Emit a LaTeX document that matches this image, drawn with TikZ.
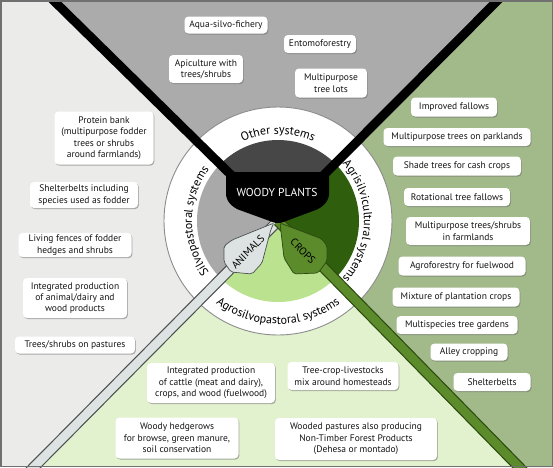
\documentclass[tikz,border=0pt]{standalone}
\usepackage{fontspec}
\setmainfont{PT Sans}
\usetikzlibrary{decorations.text,shadows,calc}
\definecolor{topbg}{HTML}{ABABAB}
\definecolor{leftbg}{HTML}{EBEBE9}
\definecolor{rightbg}{HTML}{A2B98A}
\definecolor{botbg}{HTML}{E2F2CE}
\definecolor{intop}{HTML}{474747}
\definecolor{inleft}{HTML}{A9A9A9}
\definecolor{inright}{HTML}{2F5E0D}
\definecolor{inbot}{HTML}{BAE28F}
\definecolor{cropfill}{HTML}{5B8B2B}
\definecolor{cropline}{HTML}{2C4A10}
\definecolor{animfill}{HTML}{DDE3E3}
\definecolor{animline}{HTML}{4D5050}
\definecolor{ringline}{HTML}{8C8C8C}
\definecolor{framecol}{HTML}{707070}
\begin{document}
\begin{tikzpicture}[x=1pt,y=1pt,
  box/.style={fill=white, rounded corners=4pt, align=center, inner sep=2pt,
    font=\fontsize{9.5}{11.4}\selectfont, text=black!92,
    drop shadow={shadow xshift=0.9pt, shadow yshift=-1.1pt, opacity=0.5, fill=black!60}},
  ringtext/.style={decorate, decoration={text along path, text align=center, text={|\fontsize{12}{14}\selectfont|#1}}},
  bigcap/.style={font=\fontsize{11.5}{13}\selectfont},
  smallcap/.style={font=\fontsize{10.5}{12}\selectfont},
]
\useasboundingbox (0,0) rectangle (553,-467);
\coordinate (C) at (278,-221);
\coordinate (TL) at (53,0);
\coordinate (TR) at (498,0);
\coordinate (BL) at (34,-467);
\coordinate (BR) at (519,-467);
\begin{scope}
\clip (0,0) rectangle (553,-467);
% backgrounds
\fill[leftbg] (0,0) rectangle (553,-467);
\fill[topbg] (TL) -- (TR) -- (C) -- cycle;
\fill[rightbg] (TR) -- (553,0) -- (553,-467) -- (BR) -- (C) -- cycle;
\fill[botbg] (BL) -- (BR) -- (C) -- cycle;
% ring
\filldraw[fill=white, draw=ringline, line width=0.9pt] (C) circle[radius=114];
\fill[intop] (C) -- ([shift={(45:81)}]C) arc[start angle=45, end angle=135, radius=81] -- cycle;
\fill[inleft] (C) -- ([shift={(135:81)}]C) arc[start angle=135, end angle=225, radius=81] -- cycle;
\fill[inbot] (C) -- ([shift={(225:81)}]C) arc[start angle=225, end angle=315, radius=81] -- cycle;
\fill[inright] (C) -- ([shift={(-45:81)}]C) arc[start angle=-45, end angle=45, radius=81] -- cycle;
% bars
\draw[black, line width=9pt] (C) -- ($(C)!1.1!(TL)$);
\draw[black, line width=9pt] (C) -- ($(C)!1.1!(TR)$);
\draw[animline, line width=11pt] (C) -- ($(C)!1.1!(BL)$);
\draw[animfill, line width=8.6pt] (C) -- ($(C)!1.1!(BL)$);
\draw[cropline, line width=11pt] (C) -- ($(C)!1.1!(BR)$);
\draw[cropfill, line width=8.6pt] (C) -- ($(C)!1.1!(BR)$);
\end{scope}
\draw[framecol, line width=1.5pt] (0.75,-0.75) rectangle (552.25,-466.25);
% ring texts
\path[ringtext={Other systems}] ([shift={(130:87)}]C) arc[start angle=130, end angle=50, radius=87];
\path[ringtext={Silvopastoral systems}] ([shift={(238:86)}]C) arc[start angle=238, end angle=122, radius=86];
\path[ringtext={Agrisilvicultural systems}] ([shift={(58:86)}]C) arc[start angle=58, end angle=-58, radius=86];
\path[ringtext={Agrosilvopastoral systems}] ([shift={(212:103)}]C) arc[start angle=212, end angle=328, radius=103];
% central shapes
\fill[black, rounded corners=5pt] (226,-172) -- (329,-172) -- (329,-199) -- (321,-208) -- (278,-224) -- (234,-208) -- (226,-199) -- cycle;
\node[bigcap, text=white] (woody) at (277,-192) {WOODY PLANTS};
\filldraw[fill=animfill, draw=animline, line width=0.7pt, rounded corners=2pt] (274,-223) -- (232,-240) -- (224,-246) -- (224,-262) -- (231,-272) -- (252,-274) -- (262,-263) -- (271,-229) -- cycle;
\node[smallcap, rotate=45] (animals) at (248,-252) {ANIMALS};
\filldraw[fill=cropfill, draw=cropline, line width=0.7pt, rounded corners=2pt] (280,-223) -- (322,-239) -- (327,-246) -- (327,-261) -- (318,-273) -- (294,-274) -- (284,-258) -- cycle;
\node[smallcap, rotate=-45] (crops) at (303,-251) {CROPS};
% top boxes
\node[box, minimum width=83, minimum height=17] (aqua) at (226,-25) {Aqua-silvo-fichery};
\node[box, minimum width=72, minimum height=18] (ento) at (320,-44) {Entomoforestry};
\node[box, minimum width=74, minimum height=28] (apic) at (206,-69) {Apiculture with\\trees/shrubs};
\node[box, minimum width=72, minimum height=29] (mplots) at (331,-83) {Multipurpose\\tree lots};
% left boxes
\node[box, minimum width=99, minimum height=53] (protein) at (104,-138) {Protein bank\\(multipurpose fodder\\trees or shrubs\\around farmlands)};
\node[box, minimum width=108, minimum height=26] (shelterf) at (84,-195) {Shelterbelts including\\species used as fodder};
\node[box, minimum width=113, minimum height=24] (living) at (75,-245) {Living fences of fodder\\hedges and shrubs};
\node[box, minimum width=104, minimum height=40] (intanim) at (75,-298) {Integrated production\\of animal/dairy and\\wood products};
\node[box, minimum width=120, minimum height=17] (pastures) at (75,-345) {Trees/shrubs on pastures};
% right boxes
\node[box, minimum width=86, minimum height=19] (improved) at (454,-107) {Improved fallows};
\node[box, minimum width=147, minimum height=18] (parklands) at (457,-137) {Multipurpose trees on parklands};
\node[box, minimum width=128, minimum height=19] (shade) at (457,-166) {Shade trees for cash crops};
\node[box, minimum width=106, minimum height=18] (rotational) at (457,-197) {Rotational tree fallows};
\node[box, minimum width=124, minimum height=28] (farmlands) at (468,-231) {Multipurpose trees/shrubs\\in farmlands};
\node[box, minimum width=127, minimum height=19] (fuelwood) at (462,-266) {Agroforestry for fuelwood};
\node[box, minimum width=127, minimum height=19] (mixture) at (456,-297) {Mixture of plantation crops};
\node[box, minimum width=121, minimum height=18] (gardens) at (457,-325) {Multispecies tree gardens};
\node[box, minimum width=77, minimum height=17] (alley) at (469,-352) {Alley cropping};
\node[box, minimum width=77, minimum height=18] (shelter) at (492,-382) {Shelterbelts};
% bottom boxes
\node[box, minimum width=128, minimum height=40] (cattle) at (211,-383) {Integrated production\\of cattle (meat and dairy),\\crops, and wood (fuelwood)};
\node[box, minimum width=111, minimum height=28] (homestead) at (343,-376) {Tree-crop-livestocks\\mix around homesteads};
\node[box, minimum width=123, minimum height=41] (hedgerows) at (177,-438) {Woody hedgerows\\for browse, green manure,\\soil conservation};
\node[box, minimum width=162, minimum height=42] (wooded) at (356,-439) {Wooded pastures also producing\\Non-Timber Forest Products\\(Dehesa or montado)};
\end{tikzpicture}
\end{document}
